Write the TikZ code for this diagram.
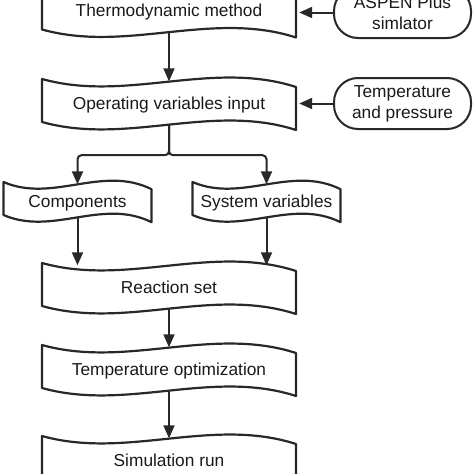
\documentclass[tikz,border=0pt]{standalone}
\usepackage{fontspec}
\setmainfont{Liberation Sans}
\usetikzlibrary{arrows.meta}
\definecolor{ink}{RGB}{40,40,40}
\tikzset{
  label font/.style={font=\fontsize{17.3}{21}\selectfont, text=black!90},
  wavebox/.style={label font, minimum width=254pt, minimum height=43pt, text height=12pt, text depth=0pt, inner sep=0pt},
  smallwave/.style={wavebox, minimum width=148pt, minimum height=33pt},
  roundbox/.style={label font, draw=ink, line width=2pt, rounded corners=24pt, minimum width=137pt, minimum height=51pt, align=center, inner sep=0pt},
  outline/.style={draw=ink, line width=2.2pt, line join=round},
  flow/.style={draw=ink, line width=2pt, -{Triangle[length=13pt,width=11pt]}},
}

\begin{document}
\begin{tikzpicture}[x=1pt, y=-1pt]
                \useasboundingbox (0,0) rectangle (474,474);
                % Steps and inputs:
                \node[wavebox] (thermo) at (169, 10.5) {Thermodynamic method};
                \node[wavebox] (oper) at (169, 103) {Operating variables input};
                \node[smallwave] (comp) at (77.5, 201) {Components};
                \node[smallwave] (sys) at (266.5, 201) {System variables};
                \node[wavebox] (react) at (169, 287) {Reaction set};
                \node[wavebox] (topt) at (169, 369) {Temperature optimization};
                \node[wavebox] (simrun) at (169, 460) {Simulation run};
                \node[roundbox] (aspen) at (402.5, 12.5) {ASPEN Plus\\simlator};
                \node[roundbox] (press) at (402.5, 103.5) {Temperature\\and pressure};
                % Wavy outlines:
                \foreach \n/\hw/\ht/\hb/\a in {thermo/127/24/19/1, oper/127/24/19/1, comp/74/19/14/0.9, sys/74/19/14/0.9, react/127/24/19/1, topt/127/24/19/1, simrun/127/24/19/1}
                  \draw[outline, shift={(\n.center)}] (-\hw,-\ht)
                    .. controls ({-\hw/3},{-\ht+23.66*\a}) and ({\hw/3},{-\ht-19.32*\a}) .. (\hw,{-\ht+8*\a})
                    -- (\hw,{\hb+8*\a})
                    .. controls ({\hw/3},{\hb-19.32*\a}) and ({-\hw/3},{\hb+23.66*\a}) .. (-\hw,\hb) -- cycle;
                % Connectors:
                \draw[flow] (thermo.south) -- (oper.north);
                \draw[flow, rounded corners=4pt] (oper.south) -- ++(0,30.5) -| (comp.north);
                \draw[flow, rounded corners=4pt] (oper.south) -- ++(0,30.5) -| (sys.north);
                \draw[flow] (comp.south) -- (comp.south |- react.north);
                \draw[flow] (sys.south) -- (sys.south |- react.north);
                \draw[flow] (react.south) -- (topt.north);
                \draw[flow] (topt.south) -- (simrun.north);
                \draw[flow, shorten >=3pt] (aspen.west) -- (thermo.east |- aspen.west);
                \draw[flow, shorten >=3pt] (press.west) -- (oper.east |- press.west);
            \end{tikzpicture}
\end{document}
